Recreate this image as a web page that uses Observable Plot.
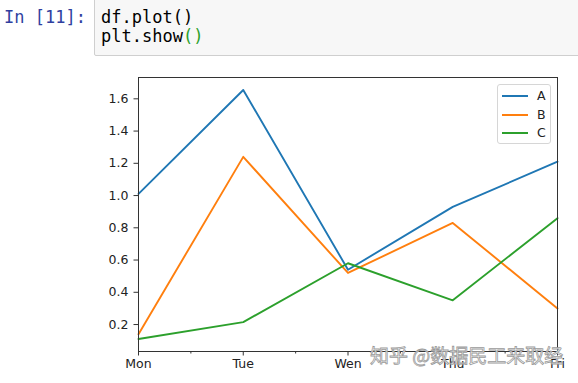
<!DOCTYPE html>
<html>
<head>
<meta charset="utf-8">
<script src="https://cdn.jsdelivr.net/npm/d3@7"></script>
<script src="https://cdn.jsdelivr.net/npm/@observablehq/plot@0.6"></script>
<style>
  html, body { margin: 0; padding: 0; background: #fff; }
  #page { position: relative; width: 578px; height: 383px; overflow: hidden; background: #fff; }
  .mono { font-family: "DejaVu Sans Mono", monospace; font-size: 17px; line-height: 19px; white-space: pre; position: absolute; }
  #prompt { left: 4px; top: 8px; color: #303F9F; }
  #cell { position: absolute; left: 94px; top: -2px; width: 500px; height: 58px; background: #f7f7f7; border: 1px solid #cfcfcf; border-radius: 2px; box-sizing: border-box; }
  #code { left: 101px; top: 8px; color: #000; }
  #code .br { color: #2ca02c; }
  #chart { position: absolute; left: 0; top: 0; }
  #legend { position: absolute; left: 497px; top: 84px; width: 54px; height: 60px; box-sizing: border-box; border: 1px solid #d6d6d6; border-radius: 3px; background: rgba(255,255,255,0.85); font-family: "DejaVu Sans", sans-serif; font-size: 12.5px; color: #222; }
  .entry { position: absolute; left: 0; height: 18px; width: 54px; }
  .sw { position: absolute; left: 4px; top: 8px; width: 26px; height: 2px; }
  .lab { position: absolute; left: 39px; top: 1px; line-height: 16px; }
  #wm { position: absolute; left: 370px; top: 343px; font-family: "Noto Sans CJK SC", sans-serif; font-size: 19px; line-height: 24px; color: rgba(255,255,255,0.9); -webkit-text-stroke: 0.8px #9a9a9a; white-space: pre; }
</style>
</head>
<body>
<div id="page">
  <div id="cell"></div>
  <div id="prompt" class="mono">In [11]:</div>
  <div id="code" class="mono">df.plot()
plt.show<span class="br">()</span></div>
  <div id="chart"></div>
  <div id="legend"></div>
  <div id="wm">知乎 @数据民工来取经</div>
</div>
<script>
// ---- data ----
const days = ["Mon", "Tue", "Wen", "Thu", "Fri"];
const seriesNames = ["A", "B", "C"];
const A = [1.01, 1.655, 0.54, 0.93, 1.21];
const B = [0.14, 1.24, 0.52, 0.83, 0.30];
const C = [0.11, 0.215, 0.58, 0.35, 0.86];
const yTicks = [0.2, 0.4, 0.6, 0.8, 1.0, 1.2, 1.4, 1.6];
const colors = ["#1f77b4", "#ff7f0e", "#2ca02c"];

const values = {A, B, C};
const rows = seriesNames.flatMap(s => values[s].map((v, i) => ({series: s, i, value: v})));

// matplotlib-like 5% margins
const all = rows.map(d => d.value);
const lo = d3.min(all), hi = d3.max(all), r = hi - lo;
const yDomain = [lo - 0.05 * r, hi + 0.05 * r];

const axisColor = "#333";
const chart = Plot.plot({
  width: 578,
  height: 383,
  marginLeft: 138,
  marginRight: 21,
  marginTop: 77,
  marginBottom: 32,
  style: {fontFamily: "DejaVu Sans, sans-serif", fontSize: "12.5px", color: "#222", background: "transparent"},
  x: {domain: [0, days.length - 1]},
  y: {domain: yDomain},
  color: {domain: seriesNames, range: colors},
  marks: [
    Plot.line(rows, {x: "i", y: "value", z: "series", stroke: "series", strokeWidth: 1.9}),
    Plot.frame({stroke: axisColor, strokeWidth: 1}),
    Plot.axisY({ticks: yTicks, tickFormat: d => d.toFixed(1), tickSize: 4.5, tickPadding: 5.5, label: null, stroke: axisColor}),
    Plot.axisX({ticks: days.map((d, i) => i), tickFormat: i => days[i], tickSize: 4.5, tickPadding: 3, label: null, stroke: axisColor}),
    Plot.axisX({ticks: days.slice(1).map((d, i) => i + 0.5), tickFormat: () => "", tickSize: 2.5, label: null, stroke: axisColor})
  ]
});
document.getElementById("chart").appendChild(chart);

// legend
const legend = document.getElementById("legend");
seriesNames.forEach((s, k) => {
  const e = document.createElement("div");
  e.className = "entry";
  e.style.top = (2 + k * 18.5) + "px";
  e.innerHTML = `<div class="sw" style="background:${colors[k]}"></div><div class="lab">${s}</div>`;
  legend.appendChild(e);
});
</script>
</body>
</html>
